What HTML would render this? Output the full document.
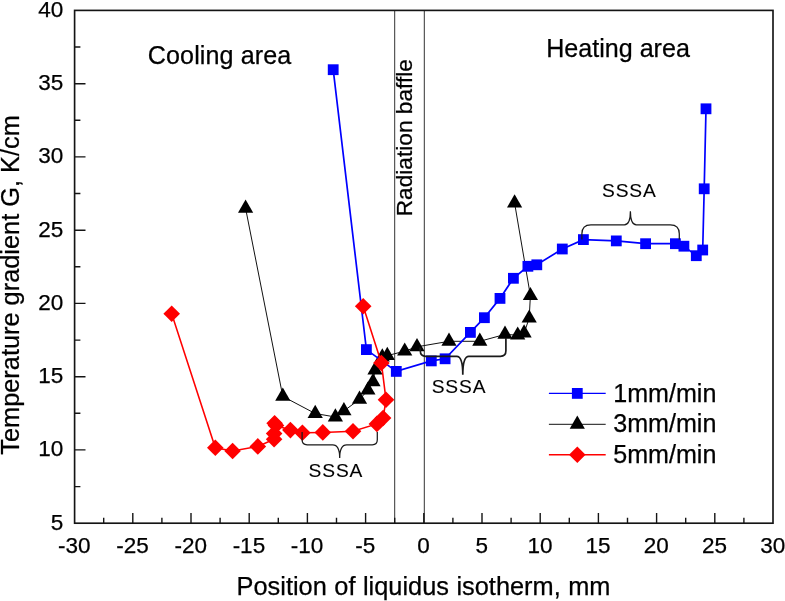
<!DOCTYPE html>
<html><head><meta charset="utf-8"><title>Temperature gradient</title>
<style>
html,body{margin:0;padding:0;background:#fff;}
body{width:785px;height:601px;overflow:hidden;}
svg{display:block;font-family:"Liberation Sans",Arial,sans-serif;fill:#000;}
.ax{stroke:#141414;stroke-width:1.65;fill:none;}
.tk{stroke:#141414;stroke-width:1.4;fill:none;}
.tl{font-size:22.5px;}
.lb{font-size:25.1px;}
text{stroke:#000;stroke-width:0.25px;}
.br{stroke:#1a1a1a;fill:none;}
</style></head><body>
<svg width="785" height="601" viewBox="0 0 785 601">
<rect width="785" height="601" fill="#fff"/>
<line x1="394.7" y1="10.4" x2="394.7" y2="523.2" stroke="#333" stroke-width="1"/>
<line x1="424.3" y1="10.4" x2="424.3" y2="523.2" stroke="#333" stroke-width="1"/>
<path class="tk" d="M103.7,523.2v-5.4 M132.8,523.2v-10.3 M161.9,523.2v-5.4 M191.0,523.2v-10.3 M220.1,523.2v-5.4 M249.2,523.2v-10.3 M278.3,523.2v-5.4 M307.4,523.2v-10.3 M336.5,523.2v-5.4 M365.6,523.2v-10.3 M394.7,523.2v-5.4 M423.8,523.2v-10.3 M452.9,523.2v-5.4 M482.0,523.2v-10.3 M511.1,523.2v-5.4 M540.2,523.2v-10.3 M569.3,523.2v-5.4 M598.4,523.2v-10.3 M627.5,523.2v-5.4 M656.6,523.2v-10.3 M685.7,523.2v-5.4 M714.8,523.2v-10.3 M743.9,523.2v-5.4 M74.6,486.6h5.8 M74.6,449.9h10.9 M74.6,413.3h5.8 M74.6,376.7h10.9 M74.6,340.1h5.8 M74.6,303.4h10.9 M74.6,266.8h5.8 M74.6,230.2h10.9 M74.6,193.5h5.8 M74.6,156.9h10.9 M74.6,120.3h5.8 M74.6,83.7h10.9 M74.6,47.0h5.8"/>
<rect class="ax" x="74.6" y="10.4" width="698.4" height="512.8"/>
<text class="tl" x="74.3" y="552.7" text-anchor="middle">-30</text>
<text class="tl" x="132.5" y="552.7" text-anchor="middle">-25</text>
<text class="tl" x="190.7" y="552.7" text-anchor="middle">-20</text>
<text class="tl" x="248.9" y="552.7" text-anchor="middle">-15</text>
<text class="tl" x="307.1" y="552.7" text-anchor="middle">-10</text>
<text class="tl" x="365.3" y="552.7" text-anchor="middle">-5</text>
<text class="tl" x="423.5" y="552.7" text-anchor="middle">0</text>
<text class="tl" x="481.7" y="552.7" text-anchor="middle">5</text>
<text class="tl" x="539.9" y="552.7" text-anchor="middle">10</text>
<text class="tl" x="598.1" y="552.7" text-anchor="middle">15</text>
<text class="tl" x="656.3" y="552.7" text-anchor="middle">20</text>
<text class="tl" x="714.5" y="552.7" text-anchor="middle">25</text>
<text class="tl" x="772.8" y="552.7" text-anchor="middle">30</text>
<text class="tl" x="63.3" y="529.5" text-anchor="end">5</text>
<text class="tl" x="63.3" y="456.2" text-anchor="end">10</text>
<text class="tl" x="63.3" y="383.0" text-anchor="end">15</text>
<text class="tl" x="63.3" y="309.7" text-anchor="end">20</text>
<text class="tl" x="63.3" y="236.5" text-anchor="end">25</text>
<text class="tl" x="63.3" y="163.2" text-anchor="end">30</text>
<text class="tl" x="63.3" y="90.0" text-anchor="end">35</text>
<text class="tl" x="63.3" y="16.7" text-anchor="end">40</text>
<text class="lb" style="font-size:25.35px;word-spacing:0.5px" x="236.6" y="594.5">Position of liquidus isotherm, mm</text>
<text class="lb" style="font-size:25.35px" transform="translate(18.9,454.7) rotate(-90)">Temperature gradient G, K/cm</text>
<text class="lb" style="letter-spacing:0.1px" x="147.8" y="63.5">Cooling area</text>
<text class="lb" x="546.2" y="57.4">Heating area</text>
<text style="font-size:22.7px" transform="translate(411.8,216.3) rotate(-90)">Radiation baffle</text>
<text style="font-size:19.2px;letter-spacing:0.85px;stroke-width:0.1px" x="308.6" y="477.2">SSSA</text>
<text style="font-size:19.2px;letter-spacing:0.85px;stroke-width:0.1px" x="431.7" y="392.5">SSSA</text>
<text style="font-size:19.2px;letter-spacing:0.85px;stroke-width:0.1px" x="602" y="197.2">SSSA</text>
<polyline points="245.6,208.4 282.8,396.4 315.2,413.5 335.4,417.0 343.9,410.9 359.5,399.4 367.9,390.2 373.0,381.8 375.0,370.0 382.3,357.0 387.3,355.6 404.7,351.2 417.0,346.8 449.0,341.3 479.8,341.3 505.0,334.4 517.7,335.2 524.1,333.1 529.2,318.2 530.4,295.7 514.6,203.1" fill="none" stroke="#111" stroke-width="1"/>
<g fill="#000"><path d="M245.6,199.6l7.6,13.2h-15.2z"/><path d="M282.8,387.6l7.6,13.2h-15.2z"/><path d="M315.2,404.7l7.6,13.2h-15.2z"/><path d="M335.4,408.2l7.6,13.2h-15.2z"/><path d="M343.9,402.1l7.6,13.2h-15.2z"/><path d="M359.5,390.6l7.6,13.2h-15.2z"/><path d="M367.9,381.4l7.6,13.2h-15.2z"/><path d="M373.0,373.0l7.6,13.2h-15.2z"/><path d="M375.0,361.2l7.6,13.2h-15.2z"/><path d="M382.3,348.2l7.6,13.2h-15.2z"/><path d="M387.3,346.8l7.6,13.2h-15.2z"/><path d="M404.7,342.4l7.6,13.2h-15.2z"/><path d="M417.0,338.0l7.6,13.2h-15.2z"/><path d="M449.0,332.5l7.6,13.2h-15.2z"/><path d="M479.8,332.5l7.6,13.2h-15.2z"/><path d="M505.0,325.6l7.6,13.2h-15.2z"/><path d="M517.7,326.4l7.6,13.2h-15.2z"/><path d="M524.1,324.3l7.6,13.2h-15.2z"/><path d="M529.2,309.4l7.6,13.2h-15.2z"/><path d="M530.4,286.9l7.6,13.2h-15.2z"/><path d="M514.6,194.3l7.6,13.2h-15.2z"/></g>
<polyline points="333.2,69.7 366.4,349.6 396.3,371.4 431.3,360.9 445.1,358.8 470.4,332.4 484.4,317.7 500.0,298.4 513.4,278.3 527.9,266.3 536.8,264.8 562.3,249.0 583.4,239.6 616.3,240.9 645.6,243.7 675.4,243.7 683.9,246.2 696.3,255.7 702.7,250.0 704.2,188.8 706.0,108.8" fill="none" stroke="#0000ff" stroke-width="1.7"/>
<g fill="#0000ff"><rect x="327.8" y="64.3" width="10.8" height="10.8"/><rect x="361.0" y="344.2" width="10.8" height="10.8"/><rect x="390.9" y="366.0" width="10.8" height="10.8"/><rect x="425.9" y="355.5" width="10.8" height="10.8"/><rect x="439.7" y="353.4" width="10.8" height="10.8"/><rect x="465.0" y="327.0" width="10.8" height="10.8"/><rect x="479.0" y="312.3" width="10.8" height="10.8"/><rect x="494.6" y="293.0" width="10.8" height="10.8"/><rect x="508.0" y="272.9" width="10.8" height="10.8"/><rect x="522.5" y="260.9" width="10.8" height="10.8"/><rect x="531.4" y="259.4" width="10.8" height="10.8"/><rect x="556.9" y="243.6" width="10.8" height="10.8"/><rect x="578.0" y="234.2" width="10.8" height="10.8"/><rect x="610.9" y="235.5" width="10.8" height="10.8"/><rect x="640.2" y="238.3" width="10.8" height="10.8"/><rect x="670.0" y="238.3" width="10.8" height="10.8"/><rect x="678.5" y="240.8" width="10.8" height="10.8"/><rect x="690.9" y="250.3" width="10.8" height="10.8"/><rect x="697.3" y="244.6" width="10.8" height="10.8"/><rect x="698.8" y="183.4" width="10.8" height="10.8"/><rect x="700.6" y="103.4" width="10.8" height="10.8"/></g>
<polyline points="171.7,313.8 215.3,447.7 232.6,451.0 257.8,446.4 274.1,439.2 274.1,433.6 274.6,423.2 276.0,425.5 290.4,430.1 302.4,432.8 322.8,432.4 353.0,431.2 376.9,423.9 383.1,418.0 386.0,399.8 381.4,363.0 363.2,306.2" fill="none" stroke="#ff0000" stroke-width="1.55"/>
<g fill="#ff0000"><path d="M171.7,305.5l8.3,8.3l-8.3,8.3l-8.3,-8.3z"/><path d="M215.3,439.4l8.3,8.3l-8.3,8.3l-8.3,-8.3z"/><path d="M232.6,442.7l8.3,8.3l-8.3,8.3l-8.3,-8.3z"/><path d="M257.8,438.1l8.3,8.3l-8.3,8.3l-8.3,-8.3z"/><path d="M274.1,430.9l8.3,8.3l-8.3,8.3l-8.3,-8.3z"/><path d="M274.1,425.3l8.3,8.3l-8.3,8.3l-8.3,-8.3z"/><path d="M274.6,414.9l8.3,8.3l-8.3,8.3l-8.3,-8.3z"/><path d="M276.0,417.2l8.3,8.3l-8.3,8.3l-8.3,-8.3z"/><path d="M290.4,421.8l8.3,8.3l-8.3,8.3l-8.3,-8.3z"/><path d="M302.4,424.5l8.3,8.3l-8.3,8.3l-8.3,-8.3z"/><path d="M322.8,424.1l8.3,8.3l-8.3,8.3l-8.3,-8.3z"/><path d="M353.0,422.9l8.3,8.3l-8.3,8.3l-8.3,-8.3z"/><path d="M376.9,415.6l8.3,8.3l-8.3,8.3l-8.3,-8.3z"/><path d="M383.1,409.7l8.3,8.3l-8.3,8.3l-8.3,-8.3z"/><path d="M386.0,391.5l8.3,8.3l-8.3,8.3l-8.3,-8.3z"/><path d="M381.4,354.7l8.3,8.3l-8.3,8.3l-8.3,-8.3z"/><path d="M363.2,297.9l8.3,8.3l-8.3,8.3l-8.3,-8.3z"/></g>
<path class="br" stroke-width="1.25" d="M302.1,432 L302.1,439.8 Q302.1,444.8 307.1,444.8 L332.7,444.8 C337.4,444.8 339.7,450.1 339.7,458 C339.7,450.1 342.0,444.8 346.7,444.8 L372.3,444.8 Q377.3,444.8 377.3,439.8 L377.3,432"/>
<path class="br" stroke-width="1.7" d="M420.3,347.5 L420.3,350.8 Q420.3,356.3 425.8,356.3 L456.8,356.3 C460.8,356.3 462.8,363.7 462.8,374.7 C462.8,363.7 464.8,356.3 468.8,356.3 L500.4,356.3 Q505.9,356.3 505.9,350.8 L505.9,338"/>
<path class="br" stroke-width="1.25" d="M581.9,239.6 L581.9,233.8 Q581.9,224.8 590.9,224.8 L624.4,224.8 C628.4,224.8 630.4,219.4 630.4,211.3 C630.4,219.4 632.4,224.8 636.4,224.8 L670.3,224.8 Q679.3,224.8 679.3,233.8 L679.3,239.6"/>
<line x1="548.9" y1="393.4" x2="605.7" y2="393.4" stroke="#0000ff" stroke-width="1.4"/>
<g fill="#0000ff"><rect x="571.9" y="388.0" width="10.8" height="10.8"/></g>
<text class="lb" x="613.2" y="401.8">1mm/min</text>
<line x1="548.9" y1="424.3" x2="605.7" y2="424.3" stroke="#111" stroke-width="1"/>
<g fill="#000"><path d="M577.3,415.5l7.6,13.2h-15.2z"/></g>
<text class="lb" x="613.2" y="432.4">3mm/min</text>
<line x1="548.9" y1="454.8" x2="605.7" y2="454.8" stroke="#ff0000" stroke-width="1.5"/>
<g fill="#ff0000"><path d="M577.3,446.5l8.3,8.3l-8.3,8.3l-8.3,-8.3z"/></g>
<text class="lb" x="613.2" y="463">5mm/min</text>
</svg></body></html>
